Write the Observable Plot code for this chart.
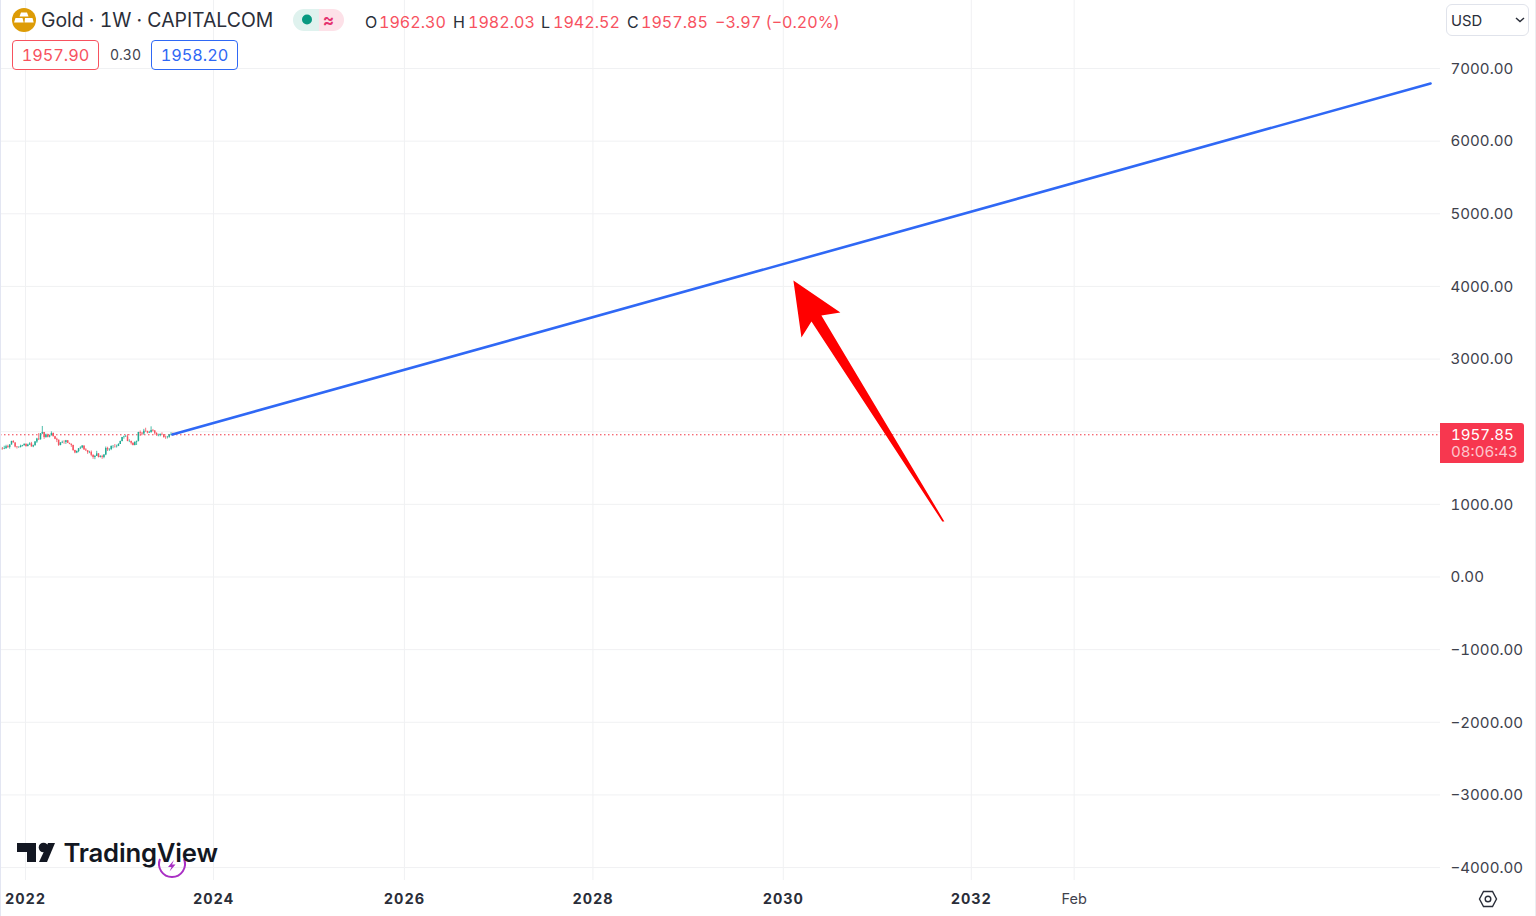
<!DOCTYPE html>
<html>
<head>
<meta charset="utf-8">
<script src="https://cdn.jsdelivr.net/npm/d3@7"></script>
<script src="https://cdn.jsdelivr.net/npm/@observablehq/plot@0.6"></script>
<style>
  html,body{margin:0;padding:0;background:#fff;overflow:hidden}
  #wrap{position:relative;width:1536px;height:916px;font-family:Inter,"Noto Sans",sans-serif;overflow:hidden;font-variant-numeric:tabular-nums;font-feature-settings:"tnum"}
  #wrap svg{display:block;font-variant-numeric:tabular-nums;font-feature-settings:"tnum"}
  .t{position:absolute;white-space:nowrap;line-height:20px}
  .box{position:absolute;box-sizing:border-box;border:1.5px solid;border-radius:4px;text-align:center;font-size:16.3px;line-height:28px;height:30px;width:87px;top:40px;background:#fff}
</style>
</head>
<body>
<div id="wrap"></div>
<script>
// Weekly candles (CAPITALCOM gold), one per week from the first date
const firstWeek = "2021-09-20";
const opens = [1754,1750,1760,1757,1767,1793,1783,1818,1865,1846,1788,1783,1783,1798,1808,
  1828,1797,1817,1832,1791,1807,1859,1898,1889,1970,1988,1921,1954,1925,1945,1974,1931,1896,1883,1811,1846,1853,1850,1875,1840,1827,1811,1742,1708,1727,1766,1775,1802,1747,1737,1712,1716,1675,1644,1660,1695,1644,1657,1644,1681,1769,1751,1755,1797,1797,1793,1798,
  1824,1865,1920,1926,1928,1865,1865,1842,1811,1856,1868,1989,1978,1969,2007,2004,1983,1990,2017,2011,1977,1946,1948,1961,1958,1921,1919,1925,1955,1962.30];
const closes = [1750,1760,1757,1767,1793,1783,1818,1865,1846,1788,1783,1783,1798,1808,1828,
  1797,1817,1832,1791,1807,1859,1898,1889,1970,1988,1921,1954,1925,1945,1974,1931,1896,1883,1811,1846,1853,1850,1875,1840,1827,1811,1742,1708,1727,1766,1775,1802,1747,1737,1712,1716,1675,1644,1660,1695,1644,1657,1644,1681,1769,1751,1755,1797,1797,1793,1798,1824,
  1865,1920,1926,1928,1865,1865,1842,1811,1856,1868,1989,1978,1969,2007,2004,1983,1990,2017,2011,1977,1946,1948,1961,1958,1921,1919,1925,1955,1962,1957.85];
const highs = [1763,1788,1782,1800,1813,1814,1820,1869,1877,1849,1793,1794,1815,1812,1830,
  1830,1828,1848,1853,1815,1865,1909,1974,1975,2072,1990,1966,1966,1948,1998,1982,1936,1910,1885,1849,1870,1875,1880,1879,1841,1830,1814,1745,1735,1767,1792,1808,1803,1766,1740,1730,1735,1680,1673,1730,1698,1670,1675,1683,1789,1786,1766,1805,1810,1824,1815,1834,
  1870,1922,1938,1949,1959,1889,1871,1846,1858,1868,1992,2010,1990,2032,2048,2006,2005,2067,2031,2014,1984,1966,1970,1984,1958,1938,1935,1961,1987,1982.03];
const lows = [1738,1745,1746,1753,1760,1770,1760,1815,1845,1778,1762,1770,1776,1790,1805,
  1786,1790,1812,1788,1780,1803,1840,1878,1885,1960,1895,1910,1915,1915,1940,1930,1890,1850,1797,1806,1836,1828,1825,1838,1822,1785,1730,1697,1698,1711,1754,1765,1745,1727,1688,1698,1655,1620,1615,1660,1640,1640,1620,1628,1670,1727,1730,1740,1766,1775,1775,1795,
  1824,1860,1897,1920,1862,1850,1818,1805,1805,1810,1860,1935,1945,1950,1990,1970,1975,1978,1995,1955,1940,1930,1930,1950,1910,1895,1900,1910,1942,1942.52];

// Blue forecast line (decimal year, price)
const lineYears = [2023.554, 2036.853];
const linePrices = [1962, 6794];

// Red annotation arrow outline (decimal year, price)
const arrowYears = [2030.118, 2030.615, 2030.414, 2031.715, 2031.693, 2030.309, 2030.203, 2030.118];
const arrowPrices = [4082, 3641, 3600, 764, 764, 3517, 3297, 4082];

const lastPrice = 1957.85;
const yGrid = [7000,6000,5000,4000,3000,2000,1000,0,-1000,-2000,-3000,-4000];
const yLabelled = [7000,6000,5000,4000,3000,1000,0,-1000,-2000,-3000,-4000];
const yearTicks = ["2022-01-01","2023-12-28","2026-01-03","2028-01-01","2030-01-05","2032-01-01"];
const yearLabels = ["2022","2024","2026","2028","2030","2032"];
const monthTick = "2033-02-01";
const monthLabel = "Feb";

const yr = y => {
  const base = Math.floor(y), a = Date.UTC(base,0,1), b = Date.UTC(base+1,0,1);
  return new Date(a + (y-base)*(b-a));
};
const start = new Date(firstWeek);
const candles = closes.map((c,i) => ({
  date: d3.utcDay.offset(start, 7*i), open: opens[i], close: c, high: highs[i], low: lows[i]
}));
const UP = "#22ab94", DOWN = "#f7525f";
const col = d => d.close >= d.open ? UP : DOWN;
const yearDates = yearTicks.map(d => new Date(d));
const monthDate = new Date(monthTick);
const fmtY = d => (d < 0 ? "\u2212" + d3.format(".2f")(-d) : d3.format(".2f")(d));
const GRID = "#f0f1f3";
const TICK = "#3e414c";

const chart = Plot.plot({
  width: 1536, height: 916,
  marginLeft: 0, marginRight: 96, marginTop: 0, marginBottom: 36,
  style: {background:"transparent", fontFamily:"Inter, 'Noto Sans', sans-serif", overflow:"visible"},
  x: {type:"utc", domain:[yr(2021.7357), yr(2036.958)], range:[0,1440], axis:null},
  y: {domain:[-4178,7936], range:[880,0], axis:null},
  marks: [
    Plot.ruleX([...yearDates, monthDate], {stroke:GRID, strokeWidth:1}),
    Plot.ruleY(yGrid, {stroke:GRID, strokeWidth:1}),
    Plot.ruleY([lastPrice], {stroke:"#f23645", strokeWidth:1, strokeDasharray:"1.5 2.5"}),
    Plot.axisY({anchor:"right", ticks:yLabelled, tickSize:0, tickPadding:10, textAnchor:"start",
      tickFormat:fmtY, label:null, fontSize:15.1, fill:TICK, dy:0.5}),
    Plot.text(yearDates, {x:d=>d, frameAnchor:"bottom", dy:23, text:(d,i)=>yearLabels[i],
      fontSize:14.5, fontWeight:700, fill:"#2a2e39"}),
    Plot.text([monthDate], {x:d=>d, frameAnchor:"bottom", dy:23, text:()=>monthLabel,
      fontSize:14.5, fill:TICK}),
    Plot.ruleX(candles, {x:"date", y1:"low", y2:"high", stroke:col, strokeWidth:0.8}),
    Plot.ruleX(candles, {x:"date", y1:"open", y2:"close", stroke:col, strokeWidth:1.5}),
    Plot.line(lineYears.map((y,i)=>({d:yr(y),p:linePrices[i]})), {x:"d", y:"p", stroke:"#2f68f5", strokeWidth:2.6}),
    Plot.line(arrowYears.map((y,i)=>({d:yr(y),p:arrowPrices[i]})), {x:"d", y:"p", fill:"#ff0000", stroke:"none", curve:"linear"})
  ]
});
const wrap = document.getElementById("wrap");
wrap.appendChild(chart);
d3.select(chart).selectAll('g[font-weight="700"]').style("letter-spacing","0.9px");
chart.style.position = "absolute"; chart.style.left = 0; chart.style.top = 0;

const RED = "#f7525f", DARK = "#2a2e39";
const add = (html) => { const d = document.createElement("div"); d.innerHTML = html; wrap.appendChild(d.firstElementChild); };
const label = (x, cy, txt, size, color, extra="") =>
  add(`<div class="t" style="left:${x}px;top:${cy-10}px;font-size:${size}px;color:${color};${extra}">${txt}</div>`);

// Legend row
add(`<svg style="position:absolute;left:0;top:0" width="60" height="40">
  <circle cx="24" cy="20" r="12" fill="#dd9c06"/>
  <path d="M21 12.5h6l1.5 4h-9zM15.5 18h7l1.2 4.5h-9.7zM25 18h7.5l1.2 4.5H24.5z" fill="#fff"/></svg>`);
label(41, 20, "Gold · 1W · CAPITALCOM", 19.4, "#2a2e39");
add(`<svg style="position:absolute;left:293px;top:9px" width="52" height="23">
  <path d="M11 0H26V22H11a11 11 0 0 1 0-22z" fill="#dff2ee"/>
  <path d="M26 0H40a11 11 0 0 1 0 22H26z" fill="#fde1e8"/>
  <circle cx="14" cy="10.5" r="5" fill="#089981"/></svg>`);
label(323, 20, "≈", 17, "#e5336f", "font-weight:700");
[[365,"O"],[453,"H"],[541,"L"],[627,"C"]].forEach(([x,t]) => label(x,22,t,16,DARK));
[[379,"1962.30"],[468,"1982.03"],[553,"1942.52"],[641,"1957.85"],[715,"\u22123.97 (\u22120.20%)"]].forEach(([x,t]) => label(x,22,t,16.1,RED));
add(`<div class="box" style="left:12px;border-color:${RED};color:${RED}">1957.90</div>`);
label(110, 55, "0.30", 14, "#3e414c");
add(`<div class="box" style="left:151px;border-color:#2f68f5;color:#2f68f5">1958.20</div>`);

// Currency selector
add(`<div style="position:absolute;left:1446px;top:4px;width:83px;height:32px;box-sizing:border-box;border:1px solid #e0e3eb;border-radius:6px;background:#fff"></div>`);
label(1451, 21, "USD", 14.8, "#2a2e39");
add(`<svg style="position:absolute;left:1515px;top:16px" width="10" height="8"><path d="M1 2l4 3.5L9 2" fill="none" stroke="#2a2e39" stroke-width="1.5"/></svg>`);

// Last-price tag
add(`<div style="position:absolute;left:1440px;top:423px;width:84px;height:40px;background:#f7374f;border-radius:0 3px 3px 0"></div>`);
label(1451, 434.5, "1957.85", 15.1, "#fff");
label(1451, 452, "08:06:43", 15.1, "rgba(255,255,255,.72)");

// Pane edges
add(`<div style="position:absolute;left:0;top:0;width:1px;height:916px;background:#e3e6f2"></div>`);
add(`<div style="position:absolute;left:1535px;top:0;width:1px;height:916px;background:#eceef2"></div>`);

// Watermark
add(`<svg style="position:absolute;left:0;top:830px" width="230" height="60">
  <path d="M17 13H36V32H27V22H17z" fill="#131722"/>
  <circle cx="43.5" cy="17.5" r="4.8" fill="#131722"/>
  <path d="M48 13H55L47 32H39z" fill="#131722"/>
  <path d="M160 29a13 13 0 1 0 24 0" fill="none" stroke="#a92fc4" stroke-width="2"/>
  <path d="M174 30l-6 7h3.5l-2 4.5 6-7h-3.5l2-4.5z" fill="#a92fc4"/></svg>`);
label(63.5, 853, "TradingView", 25.7, "#131722", "font-weight:600;letter-spacing:-.2px");

// Settings icon
add(`<svg style="position:absolute;left:1478px;top:890px" width="20" height="18">
  <path d="M5.5 1.5h9L18.5 9l-4 7.5h-9L1.5 9z" fill="none" stroke="#2a2e39" stroke-width="1.4"/>
  <circle cx="10" cy="9" r="2.8" fill="none" stroke="#2a2e39" stroke-width="1.4"/></svg>`);
</script>
</body>
</html>
